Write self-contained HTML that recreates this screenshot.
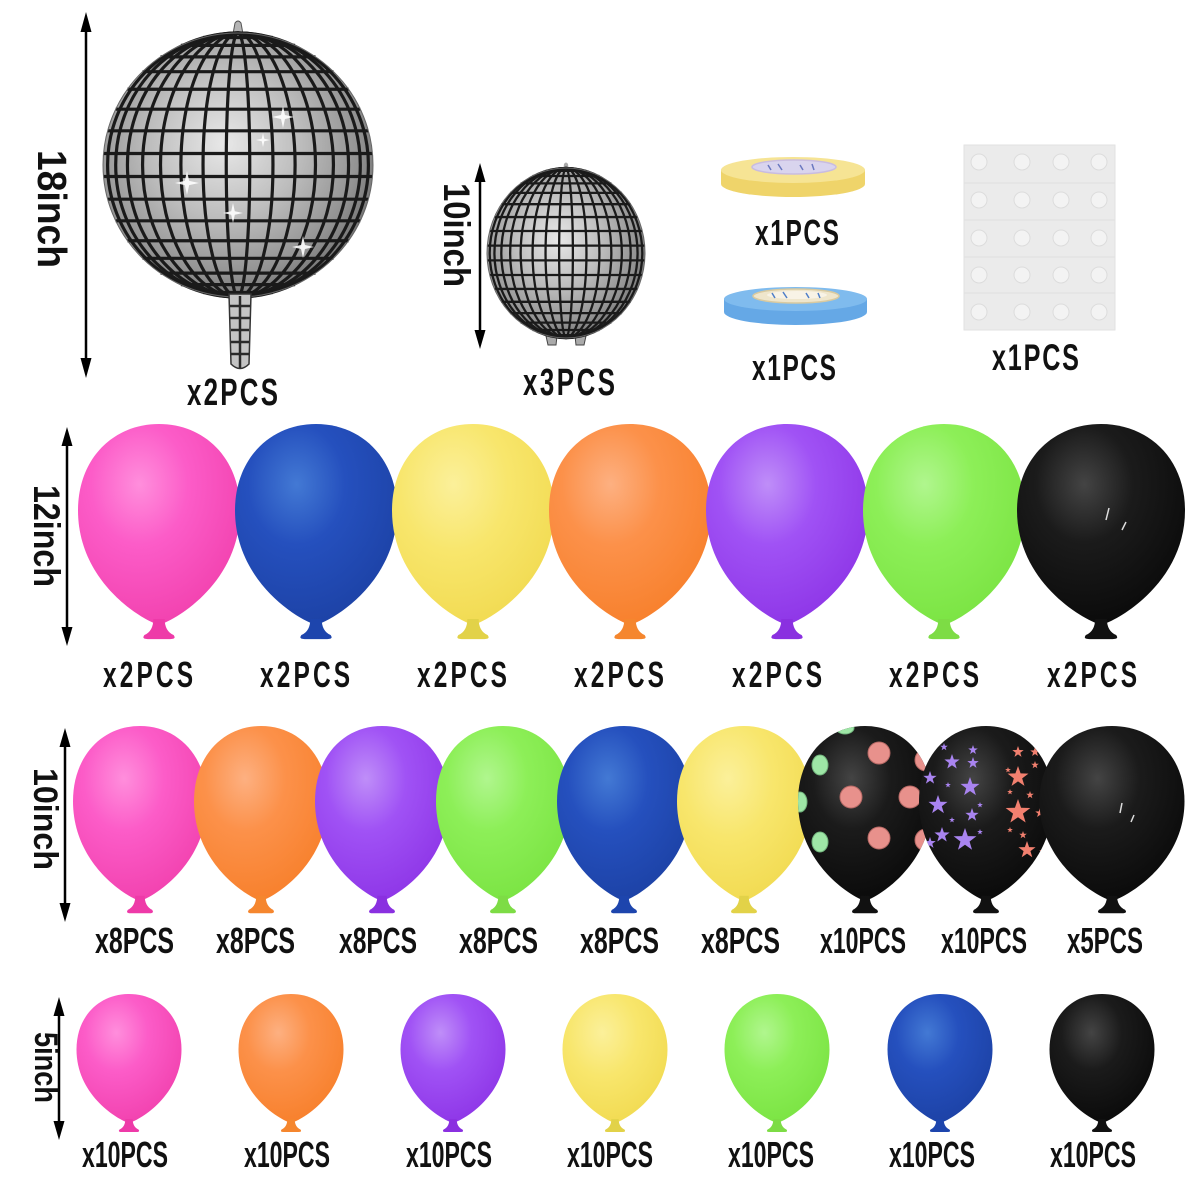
<!DOCTYPE html>
<html><head><meta charset="utf-8"><style>
html,body{margin:0;padding:0;background:#fff;}
svg{display:block;}
text{font-family:"Liberation Sans",Arial,sans-serif;font-weight:bold;fill:#111;}
</style></head><body>
<svg width="1200" height="1200" viewBox="0 0 1200 1200" xmlns="http://www.w3.org/2000/svg">
<defs>
<path id="bb" d="M0,100 C-12,97 -50,78 -50,43 C-50,17 -28,0 0,0 C28,0 50,17 50,43 C50,78 12,97 0,100 Z"/>
<path id="kn" d="M-3.5,97 L3.5,97 Q3.5,103 9,105 Q11,107 7,107 L-7,107 Q-11,107 -9,105 Q-3.5,103 -3.5,97 Z"/>
<path id="st" d="M0,-1 L0.235,-0.324 L0.951,-0.309 L0.380,0.124 L0.588,0.809 L0,0.4 L-0.588,0.809 L-0.380,0.124 L-0.951,-0.309 L-0.235,-0.324 Z"/>
<path id="sp" d="M0,-1 L0.18,-0.18 L1,0 L0.18,0.18 L0,1 L-0.18,0.18 L-1,0 L-0.18,-0.18 Z"/>
<radialGradient id="gPk" cx="0.38" cy="0.3" r="0.75"><stop offset="0" stop-color="#ff8edc"/><stop offset="0.4" stop-color="#fc5cc8"/><stop offset="1" stop-color="#f140ad"/></radialGradient>
<radialGradient id="gBl" cx="0.38" cy="0.3" r="0.75"><stop offset="0" stop-color="#4379d4"/><stop offset="0.4" stop-color="#2550be"/><stop offset="1" stop-color="#1c41a4"/></radialGradient>
<radialGradient id="gYe" cx="0.38" cy="0.3" r="0.75"><stop offset="0" stop-color="#fbf09a"/><stop offset="0.45" stop-color="#f8e66c"/><stop offset="1" stop-color="#f1da50"/></radialGradient>
<radialGradient id="gOr" cx="0.38" cy="0.3" r="0.75"><stop offset="0" stop-color="#fdb081"/><stop offset="0.4" stop-color="#fc914a"/><stop offset="1" stop-color="#f77f2a"/></radialGradient>
<radialGradient id="gPu" cx="0.38" cy="0.3" r="0.75"><stop offset="0" stop-color="#bf8ef8"/><stop offset="0.4" stop-color="#a052f5"/><stop offset="1" stop-color="#8d34e6"/></radialGradient>
<radialGradient id="gGr" cx="0.38" cy="0.3" r="0.75"><stop offset="0" stop-color="#b0f68e"/><stop offset="0.4" stop-color="#8def58"/><stop offset="1" stop-color="#7ae342"/></radialGradient>
<radialGradient id="gBk" cx="0.4" cy="0.3" r="0.72"><stop offset="0" stop-color="#444"/><stop offset="0.4" stop-color="#1b1b1b"/><stop offset="1" stop-color="#0a0a0a"/></radialGradient>
<radialGradient id="gDisco" cx="0.45" cy="0.42" r="0.62"><stop offset="0" stop-color="#e8e8e8"/><stop offset="0.45" stop-color="#bdbdbd"/><stop offset="0.8" stop-color="#939393"/><stop offset="1" stop-color="#6c6c6c"/></radialGradient>
<g id="disco">
<circle r="100" fill="url(#gDisco)"/>
<g fill="none" stroke="#1a1a1a">
<ellipse rx="8.7" ry="100" vector-effect="non-scaling-stroke"/>
<ellipse rx="25.9" ry="100" vector-effect="non-scaling-stroke"/>
<ellipse rx="42.3" ry="100" vector-effect="non-scaling-stroke"/>
<ellipse rx="57.4" ry="100" vector-effect="non-scaling-stroke"/>
<ellipse rx="70.7" ry="100" vector-effect="non-scaling-stroke"/>
<ellipse rx="81.9" ry="100" vector-effect="non-scaling-stroke"/>
<ellipse rx="90.6" ry="100" vector-effect="non-scaling-stroke"/>
<ellipse rx="96.6" ry="100" vector-effect="non-scaling-stroke"/>
<path vector-effect="non-scaling-stroke" d="M-99.6,8.7H99.6M-99.6,-8.7H99.6M-96.6,25.9H96.6M-96.6,-25.9H96.6M-90.6,42.3H90.6M-90.6,-42.3H90.6M-81.9,57.4H81.9M-81.9,-57.4H81.9M-70.7,70.7H70.7M-70.7,-70.7H70.7M-57.4,81.9H57.4M-57.4,-81.9H57.4M-42.3,90.6H42.3M-42.3,-90.6H42.3M-25.9,96.6H25.9M-25.9,-96.6H25.9"/>
</g>
<circle r="100" fill="none" stroke="#666" stroke-width="1" vector-effect="non-scaling-stroke"/>
</g>
<clipPath id="cD"><path transform="translate(865,726) scale(1.34,1.75)" d="M0,100 C-12,97 -50,78 -50,43 C-50,17 -28,0 0,0 C28,0 50,17 50,43 C50,78 12,97 0,100 Z"/></clipPath>
<clipPath id="cS"><path transform="translate(986,726) scale(1.34,1.75)" d="M0,100 C-12,97 -50,78 -50,43 C-50,17 -28,0 0,0 C28,0 50,17 50,43 C50,78 12,97 0,100 Z"/></clipPath>
</defs>

<!-- arrows -->
<g fill="#000" stroke="none">
<line x1="86" y1="28" x2="86" y2="362" stroke="#000" stroke-width="2.5"/>
<path d="M86,12 L80.5,32 L91.5,32 Z"/><path d="M86,378 L80.5,358 L91.5,358 Z"/>
<line x1="480" y1="178" x2="480" y2="334" stroke="#000" stroke-width="2.5"/>
<path d="M480,163 L474.5,182 L485.5,182 Z"/><path d="M480,349 L474.5,330 L485.5,330 Z"/>
<line x1="67" y1="442" x2="67" y2="631" stroke="#000" stroke-width="2.5"/>
<path d="M67,427 L61.5,446 L72.5,446 Z"/><path d="M67,646 L61.5,627 L72.5,627 Z"/>
<line x1="65" y1="743" x2="65" y2="907" stroke="#000" stroke-width="2.5"/>
<path d="M65,728 L59.5,747 L70.5,747 Z"/><path d="M65,922 L59.5,903 L70.5,903 Z"/>
<line x1="59" y1="1012" x2="59" y2="1125" stroke="#000" stroke-width="2.5"/>
<path d="M59,997 L53.5,1016 L64.5,1016 Z"/><path d="M59,1140 L53.5,1121 L64.5,1121 Z"/>
</g>

<!-- inch labels -->
<text transform="translate(38,150) rotate(90)" font-size="41" textLength="118" lengthAdjust="spacingAndGlyphs">18inch</text>
<text transform="translate(444,183) rotate(90)" font-size="37" textLength="104" lengthAdjust="spacingAndGlyphs">10inch</text>
<text transform="translate(34,485) rotate(90)" font-size="37" textLength="102" lengthAdjust="spacingAndGlyphs">12inch</text>
<text transform="translate(34,768) rotate(90)" font-size="34" textLength="102" lengthAdjust="spacingAndGlyphs">10inch</text>
<text transform="translate(35,1032) rotate(90)" font-size="32" textLength="71" lengthAdjust="spacingAndGlyphs">5inch</text>

<!-- big disco ball -->
<path d="M233,34 L235,23 Q238,19 241,23 L243,34 Z" fill="#b5b5b5" stroke="#555" stroke-width="1"/>
<use href="#disco" transform="translate(238,165) scale(1.35,1.32)" stroke-width="3.2"/>
<path d="M229,294 L251,294 L249,364 Q240,373 231,364 Z" fill="#c4c4c4" stroke="#333" stroke-width="1.5"/>
<path d="M230,306H250M230,318H250M231,330H249M231,342H249M231,354H249M240,296V368" stroke="#2a2a2a" stroke-width="2.5" fill="none"/>
<g fill="#fff" opacity="0.9">
<use href="#sp" transform="translate(187,183) scale(12)"/>
<use href="#sp" transform="translate(233,213) scale(10)"/>
<use href="#sp" transform="translate(283,117) scale(11)"/>
<use href="#sp" transform="translate(303,247) scale(11)"/>
<use href="#sp" transform="translate(263,140) scale(7)"/>
</g>

<!-- small disco ball -->
<path d="M563,172 L564,164 Q566,161 568,164 L569,172 Z" fill="#aaa"/>
<path d="M546,336 L548,345 L556,345 L557,336 Z M575,336 L576,345 L584,345 L586,336 Z" fill="#aaa" stroke="#444" stroke-width="1"/>
<use href="#disco" transform="translate(566,253) scale(0.79,0.85)" stroke-width="2.3"/>

<!-- yellow tape -->
<path d="M721,170 L721,184 A72,13 0 0 0 865,184 L865,170 Z" fill="#efd46a"/>
<ellipse cx="793" cy="170" rx="72" ry="13" fill="#f6e494"/>
<ellipse cx="794" cy="167" rx="42" ry="7" fill="#d9d4ee" stroke="#c9bce0" stroke-width="1.5"/>
<path d="M768,165 l3,5 M778,164 l4,6 M800,165 l3,5 M812,164 l2,6" stroke="#6a78c0" stroke-width="1.5"/>
<!-- blue tape -->
<path d="M724,299 L724,312 A71.5,13 0 0 0 867,312 L867,299 Z" fill="#65a8e6"/>
<ellipse cx="795.5" cy="299" rx="71.5" ry="12" fill="#7fbbee"/>
<ellipse cx="796" cy="296" rx="43" ry="7" fill="#efe6cc" stroke="#d9caa0" stroke-width="1.5"/>
<ellipse cx="797" cy="295" rx="30" ry="4" fill="#f8f3e6"/>
<path d="M772,293 l3,5 M783,292 l4,6 M806,293 l3,5 M818,293 l2,5" stroke="#4f7fc8" stroke-width="1.5"/>

<!-- glue dot sheet -->
<rect x="964" y="145" width="151" height="185" fill="#ebebeb" stroke="#e2e2e2" stroke-width="1"/>
<path d="M964,183H1115M964,220H1115M964,257H1115M964,293H1115" stroke="#e1e1e1" stroke-width="1.2"/>
<g fill="#f3f3f3" stroke="#dcdcdc" stroke-width="1">
<circle cx="979" cy="162" r="8"/><circle cx="1022" cy="162" r="8"/><circle cx="1061" cy="162" r="8"/><circle cx="1099" cy="162" r="8"/>
<circle cx="979" cy="200" r="8"/><circle cx="1022" cy="200" r="8"/><circle cx="1061" cy="200" r="8"/><circle cx="1099" cy="200" r="8"/>
<circle cx="979" cy="238" r="8"/><circle cx="1022" cy="238" r="8"/><circle cx="1061" cy="238" r="8"/><circle cx="1099" cy="238" r="8"/>
<circle cx="979" cy="275" r="8"/><circle cx="1022" cy="275" r="8"/><circle cx="1061" cy="275" r="8"/><circle cx="1099" cy="275" r="8"/>
<circle cx="979" cy="312" r="8"/><circle cx="1022" cy="312" r="8"/><circle cx="1061" cy="312" r="8"/><circle cx="1099" cy="312" r="8"/>
</g>

<!-- condensed spaced labels -->
<g transform="scale(0.68,1)">
<text x="275" y="405" font-size="38" textLength="133.8" lengthAdjust="spacing">x2PCS</text>
<text x="769.1" y="395" font-size="38" textLength="135.3" lengthAdjust="spacing">x3PCS</text>
<text x="1110.3" y="245" font-size="36" textLength="123.5" lengthAdjust="spacing">x1PCS</text>
<text x="1105.9" y="380" font-size="36" textLength="123.5" lengthAdjust="spacing">x1PCS</text>
<text x="1458.8" y="370" font-size="37" textLength="127.9" lengthAdjust="spacing">x1PCS</text>
<text x="151.5" y="687" font-size="36" textLength="132.4" lengthAdjust="spacing">x2PCS</text>
<text x="382.4" y="687" font-size="36" textLength="132.4" lengthAdjust="spacing">x2PCS</text>
<text x="613.2" y="687" font-size="36" textLength="132.4" lengthAdjust="spacing">x2PCS</text>
<text x="844.1" y="687" font-size="36" textLength="132.4" lengthAdjust="spacing">x2PCS</text>
<text x="1076.5" y="687" font-size="36" textLength="132.4" lengthAdjust="spacing">x2PCS</text>
<text x="1307.4" y="687" font-size="36" textLength="132.4" lengthAdjust="spacing">x2PCS</text>
<text x="1539.7" y="687" font-size="36" textLength="132.4" lengthAdjust="spacing">x2PCS</text>
</g>

<!-- ROW 2 -->
<g transform="translate(159,424) scale(1.62,2.01)"><use href="#bb" fill="url(#gPk)"/><use href="#kn" fill="#ee3aa8"/></g>
<g transform="translate(316,424) scale(1.62,2.01)"><use href="#bb" fill="url(#gBl)"/><use href="#kn" fill="#1d45ad"/></g>
<g transform="translate(473,424) scale(1.62,2.01)"><use href="#bb" fill="url(#gYe)"/><use href="#kn" fill="#e2d248"/></g>
<g transform="translate(630,424) scale(1.62,2.01)"><use href="#bb" fill="url(#gOr)"/><use href="#kn" fill="#f5862e"/></g>
<g transform="translate(787,424) scale(1.62,2.01)"><use href="#bb" fill="url(#gPu)"/><use href="#kn" fill="#8a30e0"/></g>
<g transform="translate(944,424) scale(1.62,2.01)"><use href="#bb" fill="url(#gGr)"/><use href="#kn" fill="#7ddc45"/></g>
<g transform="translate(1101,424) scale(1.68,2.01)"><use href="#bb" fill="url(#gBk)"/><use href="#kn" fill="#111"/></g>
<path d="M1109,508 l-3,12 M1126,522 l-4,8" stroke="#ddd" stroke-width="1.5"/>

<!-- ROW 3 -->
<g transform="translate(140,726) scale(1.34,1.75)"><use href="#bb" fill="url(#gPk)"/><use href="#kn" fill="#ee3aa8"/></g>
<g transform="translate(261,726) scale(1.34,1.75)"><use href="#bb" fill="url(#gOr)"/><use href="#kn" fill="#f5862e"/></g>
<g transform="translate(382,726) scale(1.34,1.75)"><use href="#bb" fill="url(#gPu)"/><use href="#kn" fill="#8a30e0"/></g>
<g transform="translate(503,726) scale(1.34,1.75)"><use href="#bb" fill="url(#gGr)"/><use href="#kn" fill="#7ddc45"/></g>
<g transform="translate(624,726) scale(1.34,1.75)"><use href="#bb" fill="url(#gBl)"/><use href="#kn" fill="#1d45ad"/></g>
<g transform="translate(744,726) scale(1.34,1.75)"><use href="#bb" fill="url(#gYe)"/><use href="#kn" fill="#e2d248"/></g>
<g transform="translate(865,726) scale(1.34,1.75)"><use href="#bb" fill="url(#gBk)"/><use href="#kn" fill="#111"/></g>
<g clip-path="url(#cD)">
<g fill="#e8918c" stroke="#b86a66" stroke-width="1">
<circle cx="879" cy="753" r="11"/><circle cx="851" cy="797" r="11"/><circle cx="910" cy="797" r="11"/><circle cx="879" cy="838" r="11"/><circle cx="926" cy="760" r="11"/><circle cx="926" cy="840" r="11"/>
</g>
<g fill="#9ee6a6" stroke="#6fb07a" stroke-width="1">
<ellipse cx="820" cy="765" rx="8" ry="10"/><ellipse cx="820" cy="842" rx="8" ry="10"/><ellipse cx="800" cy="802" rx="7" ry="10"/><ellipse cx="845" cy="728" rx="9" ry="6"/>
</g>
</g>
<g transform="translate(986,726) scale(1.34,1.75)"><use href="#bb" fill="url(#gBk)"/><use href="#kn" fill="#111"/></g>
<g clip-path="url(#cS)">
<g fill="#a984f0">
<use href="#st" transform="translate(952,762) scale(8)"/>
<use href="#st" transform="translate(973,763) scale(6)"/>
<use href="#st" transform="translate(973,750) scale(5)"/>
<use href="#st" transform="translate(970,787) scale(10)"/>
<use href="#st" transform="translate(938,805) scale(10)"/>
<use href="#st" transform="translate(972,815) scale(7)"/>
<use href="#st" transform="translate(965,840) scale(12)"/>
<use href="#st" transform="translate(942,835) scale(8)"/>
<use href="#st" transform="translate(930,778) scale(7)"/>
<use href="#st" transform="translate(948,785) scale(3)"/>
<use href="#st" transform="translate(952,820) scale(3)"/>
<use href="#st" transform="translate(980,805) scale(3)"/>
<use href="#st" transform="translate(980,832) scale(3)"/>
<use href="#st" transform="translate(930,843) scale(6)"/>
<use href="#st" transform="translate(944,747) scale(4)"/>
</g>
<g fill="#f2806f">
<use href="#st" transform="translate(1018,777) scale(11)"/>
<use href="#st" transform="translate(1018,812) scale(13)"/>
<use href="#st" transform="translate(1027,850) scale(9)"/>
<use href="#st" transform="translate(1018,752) scale(6)"/>
<use href="#st" transform="translate(1035,752) scale(5)"/>
<use href="#st" transform="translate(1035,765) scale(4)"/>
<use href="#st" transform="translate(1010,792) scale(3)"/>
<use href="#st" transform="translate(1030,795) scale(4)"/>
<use href="#st" transform="translate(1045,852) scale(6)"/>
<use href="#st" transform="translate(1040,813) scale(5)"/>
<use href="#st" transform="translate(1010,830) scale(3)"/>
<use href="#st" transform="translate(1023,835) scale(4)"/>
<use href="#st" transform="translate(1008,770) scale(3)"/>
</g>
</g>
<g transform="translate(1112,726) scale(1.45,1.75)"><use href="#bb" fill="url(#gBk)"/><use href="#kn" fill="#111"/></g>
<path d="M1122,803 l-2,10 M1134,815 l-3,7" stroke="#ddd" stroke-width="1.5"/>

<g font-size="36">
<text x="95" y="953" textLength="79" lengthAdjust="spacingAndGlyphs">x8PCS</text>
<text x="216" y="953" textLength="79" lengthAdjust="spacingAndGlyphs">x8PCS</text>
<text x="339" y="953" textLength="78" lengthAdjust="spacingAndGlyphs">x8PCS</text>
<text x="459" y="953" textLength="79" lengthAdjust="spacingAndGlyphs">x8PCS</text>
<text x="580" y="953" textLength="79" lengthAdjust="spacingAndGlyphs">x8PCS</text>
<text x="701" y="953" textLength="79" lengthAdjust="spacingAndGlyphs">x8PCS</text>
<text x="820" y="953" textLength="86" lengthAdjust="spacingAndGlyphs">x10PCS</text>
<text x="941" y="953" textLength="86" lengthAdjust="spacingAndGlyphs">x10PCS</text>
<text x="1067" y="953" textLength="76" lengthAdjust="spacingAndGlyphs">x5PCS</text>
</g>

<!-- ROW 4 -->
<g transform="translate(129,994) scale(1.05,1.29)"><use href="#bb" fill="url(#gPk)"/><use href="#kn" fill="#ee3aa8"/></g>
<g transform="translate(291,994) scale(1.05,1.29)"><use href="#bb" fill="url(#gOr)"/><use href="#kn" fill="#f5862e"/></g>
<g transform="translate(453,994) scale(1.05,1.29)"><use href="#bb" fill="url(#gPu)"/><use href="#kn" fill="#8a30e0"/></g>
<g transform="translate(615,994) scale(1.05,1.29)"><use href="#bb" fill="url(#gYe)"/><use href="#kn" fill="#e2d248"/></g>
<g transform="translate(777,994) scale(1.05,1.29)"><use href="#bb" fill="url(#gGr)"/><use href="#kn" fill="#7ddc45"/></g>
<g transform="translate(940,994) scale(1.05,1.29)"><use href="#bb" fill="url(#gBl)"/><use href="#kn" fill="#1d45ad"/></g>
<g transform="translate(1102,994) scale(1.05,1.29)"><use href="#bb" fill="url(#gBk)"/><use href="#kn" fill="#111"/></g>

<g font-size="36">
<text x="82" y="1167" textLength="86" lengthAdjust="spacingAndGlyphs">x10PCS</text>
<text x="244" y="1167" textLength="86" lengthAdjust="spacingAndGlyphs">x10PCS</text>
<text x="406" y="1167" textLength="86" lengthAdjust="spacingAndGlyphs">x10PCS</text>
<text x="567" y="1167" textLength="86" lengthAdjust="spacingAndGlyphs">x10PCS</text>
<text x="728" y="1167" textLength="86" lengthAdjust="spacingAndGlyphs">x10PCS</text>
<text x="889" y="1167" textLength="86" lengthAdjust="spacingAndGlyphs">x10PCS</text>
<text x="1050" y="1167" textLength="86" lengthAdjust="spacingAndGlyphs">x10PCS</text>
</g>
</svg>
</body></html>
